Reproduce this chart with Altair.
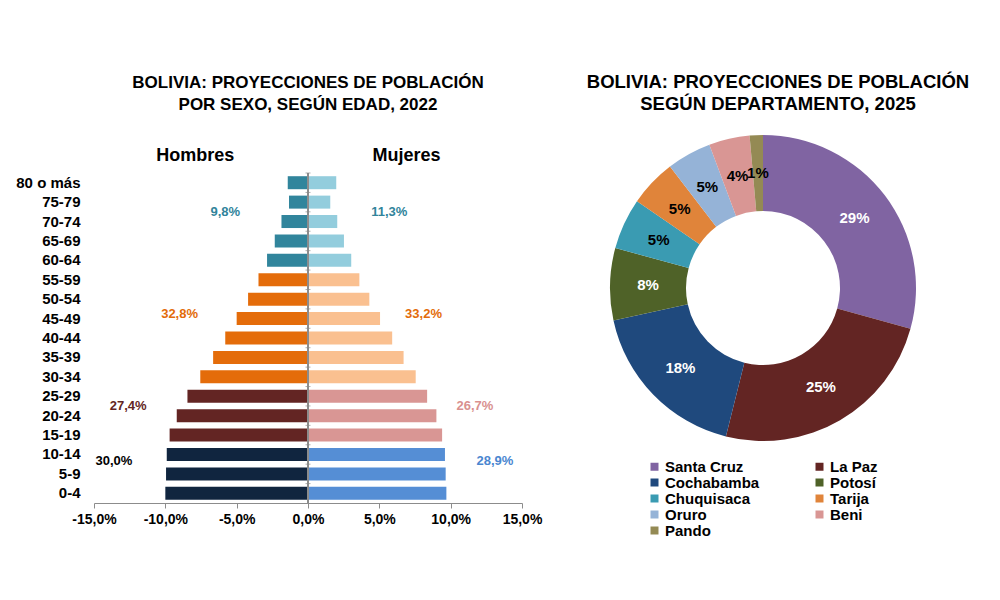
import altair as alt
import pandas as pd

F = "Liberation Sans, Arial, sans-serif"

# ---------------- Pyramid data ----------------
ages = ["80 o más", "75-79", "70-74", "65-69", "60-64", "55-59", "50-54", "45-49",
        "40-44", "35-39", "30-34", "25-29", "20-24", "15-19", "10-14", "5-9", "0-4"]
hombres = [1.42, 1.33, 1.86, 2.33, 2.87, 3.47, 4.20, 5.00, 5.80, 6.65, 7.55,
           8.45, 9.20, 9.70, 9.90, 9.95, 10.00]
mujeres = [1.98, 1.56, 2.05, 2.52, 3.03, 3.60, 4.30, 5.05, 5.90, 6.70, 7.55,
           8.35, 9.00, 9.40, 9.60, 9.65, 9.70]
grupos = ["60+"] * 5 + ["30-59"] * 6 + ["15-29"] * 3 + ["0-14"] * 3

keys = ["H 60+", "M 60+", "H 30-59", "M 30-59", "H 15-29", "M 15-29", "H 0-14", "M 0-14"]
key_colors = ["#31859c", "#93cddd", "#e46c0a", "#fac090", "#632523", "#d99694", "#10253f", "#558ed5"]

# group totals (annotations)
tot_text = ["9,8%", "11,3%", "32,8%", "33,2%", "27,4%", "26,7%", "30,0%", "28,9%"]
tot_x = [-5.8, 5.7, -9.0, 8.1, -12.6, 11.7, -13.6, 13.1]
tot_row = ["75-79", "75-79", "45-49", "45-49", "25-29", "25-29", "10-14", "10-14"]
tot_dy = [9.7, 9.7, -5, -5, 9.7, 9.7, 6.5, 6.5]
tot_color = ["#31849b", "#31849b", "#e36c09", "#e36c09", "#632523", "#d9918f", "#000000", "#4a86d0"]

sex_labels = ["Hombres", "Mujeres"]
sex_label_x = [-7.9, 6.9]

# ---------------- Donut data ----------------
deps = ["Santa Cruz", "La Paz", "Cochabamba", "Potosí", "Chuquisaca", "Tarija", "Oruro", "Beni", "Pando"]
dep_vals = [29.3, 24.6, 17.7, 7.6, 5.4, 5.0, 4.7, 4.3, 1.4]
dep_colors = ["#8064a2", "#632523", "#1f497d", "#4f6228", "#3a9bb2", "#e0843a", "#95b3d7", "#d99694", "#948a54"]
white_label = ["Santa Cruz", "La Paz", "Cochabamba", "Potosí"]
# legend entry order (legend grid fills column by column)
legend_order = ["Santa Cruz", "Cochabamba", "Chuquisaca", "Oruro", "Pando",
                "La Paz", "Potosí", "Tarija", "Beni"]

# ---------------- Build pyramid ----------------
rows = []
for a, h, m, g in zip(ages, hombres, mujeres, grupos):
    rows.append({"edad": a, "valor": -h, "clave": "H " + g})
    rows.append({"edad": a, "valor": m, "clave": "M " + g})
pdf = pd.DataFrame(rows)

yscale = alt.Scale(domain=ages, paddingInner=0.33, paddingOuter=0.165)
xscale = alt.Scale(domain=[-15, 15], nice=False)

bars = alt.Chart(pdf).mark_bar().encode(
    y=alt.Y("edad:N", sort=ages, scale=yscale,
            axis=alt.Axis(title=None, ticks=False, domain=False, labelFont=F,
                          labelFontSize=15, labelFontWeight="bold", labelColor="black",
                          labelPadding=14)),
    x=alt.X("valor:Q", scale=xscale,
            axis=alt.Axis(title=None, values=[-15, -10, -5, 0, 5, 10, 15], grid=False,
                          labelExpr="(datum.value < 0 ? '-' : '') + replace(format(abs(datum.value), '.1f'), '.', ',') + '%'",
                          domainColor="#8c8c8c", tickColor="#8c8c8c", tickSize=5,
                          labelFont=F, labelFontSize=14, labelFontWeight="bold",
                          labelColor="black", labelPadding=4, labelFlush=False)),
    color=alt.Color("clave:N", scale=alt.Scale(domain=keys, range=key_colors), legend=None),
)

zero = alt.Chart(pd.DataFrame({"edad": ages})).mark_rule(color="#8c8c8c", strokeWidth=1).encode(
    x=alt.datum(0)
)
ticks = alt.Chart(pd.DataFrame({"edad": ages})).mark_tick(
    orient="horizontal", size=5, thickness=1, color="#8c8c8c", yOffset=-9.7
).encode(x=alt.datum(0), y=alt.Y("edad:N", sort=ages, scale=yscale))

sex_txt = alt.Chart(pd.DataFrame({"t": sex_labels, "x": sex_label_x})).mark_text(
    font=F, fontSize=18, fontWeight="bold", color="black"
).encode(x=alt.X("x:Q", scale=xscale), y=alt.value(-17), text="t:N")

ann_df = pd.DataFrame({"t": tot_text, "x": tot_x, "edad": tot_row, "dy": tot_dy, "c": tot_color})
ann_layers = []
for d in sorted(set(tot_dy)):
    sub = ann_df[ann_df["dy"] == d]
    ann_layers.append(
        alt.Chart(sub).mark_text(font=F, fontSize=13, fontWeight="bold", dy=d).encode(
            x=alt.X("x:Q", scale=xscale),
            y=alt.Y("edad:N", sort=ages, scale=yscale),
            text="t:N",
            color=alt.Color("c:N", scale=None),
        )
    )

pyramid = alt.layer(bars, zero, ticks, sex_txt, *ann_layers).properties(
    width=428, height=330,
    title=alt.TitleParams(
        text=["BOLIVIA: PROYECCIONES DE POBLACIÓN", "POR SEXO, SEGÚN EDAD, 2022"],
        font=F, fontSize=17, fontWeight="bold", lineHeight=22, color="black",
        anchor="middle", offset=33,
    ),
)

# ---------------- Build donut ----------------
total = sum(dep_vals)
ddf = pd.DataFrame({
    "dep": deps,
    "valor": dep_vals,
    "idx": list(range(len(deps))),
    "lbl": [f"{round(v / total * 100)}%" for v in dep_vals],
})

arcs = alt.Chart(ddf).mark_arc(outerRadius=153, innerRadius=77).encode(
    theta=alt.Theta("valor:Q", stack=True),
    order=alt.Order("idx:Q"),
    color=alt.Color(
        "dep:N", sort=deps, scale=alt.Scale(domain=deps, range=dep_colors),
        legend=alt.Legend(
            orient="none", legendX=84, legendY=286, columns=2, title=None,
            values=legend_order,
            symbolType="square", symbolSize=64, symbolStrokeWidth=0,
            labelFont=F, labelFontSize=15, labelFontWeight="bold", labelColor="black",
            columnPadding=52, rowPadding=0, labelOffset=3, padding=0,
        ),
    ),
)
arc_txt = alt.Chart(ddf).mark_text(radius=115, font=F, fontSize=15, fontWeight="bold").encode(
    theta=alt.Theta("valor:Q", stack=True),
    order=alt.Order("idx:Q"),
    text="lbl:N",
    color=alt.condition(alt.FieldOneOfPredicate(field="dep", oneOf=white_label),
                        alt.value("white"), alt.value("black")),
)

donut = alt.layer(arcs, arc_txt).properties(
    width=400, height=230,
    title=alt.TitleParams(
        text=["BOLIVIA: PROYECCIONES DE POBLACIÓN", "SEGÚN DEPARTAMENTO, 2025"],
        font=F, fontSize=18.5, fontWeight="bold", lineHeight=22, color="black",
        anchor="middle", offset=22, dx=15,
    ),
)

chart = alt.hconcat(pyramid, donut, spacing=21).resolve_scale(
    color="independent"
).properties(
    padding={"left": 15, "top": 72, "right": 5, "bottom": 5}
).configure_view(stroke=None)

chart.save("out.html", embed_options={"renderer": "svg", "actions": False})
